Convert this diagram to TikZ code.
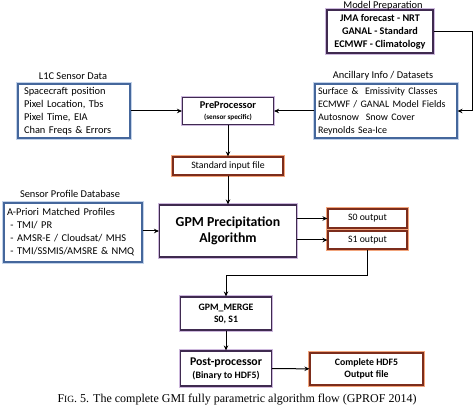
\documentclass[tikz,border=0pt]{standalone}
\usepackage{fontspec}
\setmainfont{Liberation Serif}
\newfontfamily\carlito{Carlito}
\usetikzlibrary{arrows.meta,positioning,calc}
\definecolor{PurpD}{HTML}{3F2A50}
\definecolor{PurpL}{HTML}{CDB8DD}
\definecolor{BlueD}{HTML}{45679C}
\definecolor{BlueL}{HTML}{C3D3EA}
\definecolor{OrgD}{HTML}{7C2D1C}
\definecolor{OrgL}{HTML}{F2A57C}

\begin{document}
\begin{tikzpicture}[x=1pt,y=-1pt,font=\carlito\fontsize{10.4}{13}\selectfont,
    base/.style={draw,fill=white,line width=1.1pt,inner sep=0pt,align=center},
    prp/.style={base,draw=PurpD,preaction={draw=PurpL,line width=3.8pt}},
    blu/.style={base,draw=BlueD,preaction={draw=BlueL,line width=3.8pt},
      align=left,inner xsep=6pt},
    org/.style={base,draw=OrgD,preaction={draw=OrgL,line width=3.8pt}},
    lbl/.style={inner sep=0pt},
    arr/.style={->,line width=1pt},
    >={Stealth[length=5pt,width=4.5pt]}]
  \useasboundingbox (0,0) rectangle (474,406);
  % inputs
  \node[prp,minimum width=106,minimum height=43,font=\carlito\fontsize{10.2}{13}\selectfont\bfseries]
    (model) at (380,31.5) {JMA forecast - NRT\\GANAL - Standard\\ECMWF - Climatology};
  \node[lbl] (modellbl) at (383,5.5) {Model Preparation};
  \node[blu,text width=100,minimum height=54] (l1c) at (74,111)
    {Spacecraft position\\Pixel Location, Tbs\\Pixel Time, EIA\\Chan Freqs \& Errors};
  \node[lbl] (l1clbl) at (73,76) {L1C Sensor Data};
  \node[blu,text width=136,minimum height=54,inner xsep=3pt,font=\carlito\fontsize{10}{13}\selectfont]
    (anc) at (386,111)
    {Surface \&\ \ Emissivity Classes\\ECMWF / GANAL Model Fields\\Autosnow\ \ Snow Cover\\Reynolds Sea-Ice};
  \node[lbl] (anclbl) at (383,76) {Ancillary Info / Datasets};
  % preprocessing
  \node[prp,minimum width=91,minimum height=27] (pre) at (228,111)
    {\bfseries PreProcessor\\[-2pt]{\fontsize{7.2}{8}\selectfont\bfseries(sensor specific)}};
  \node[org,minimum width=110,minimum height=18,font=\carlito\fontsize{9.8}{11}\selectfont]
    (std) at (228,166) {Standard input file};
  % algorithm
  \node[prp,minimum width=137,minimum height=52,font=\carlito\fontsize{13.8}{16.5}\selectfont\bfseries]
    (gpm) at (228,231) {GPM Precipitation\\Algorithm};
  \node[blu,text width=132,minimum height=59,inner xsep=3pt] (spd) at (73,232.5)
    {A-Priori Matched Profiles\\\ - TMI/ PR\\\ - AMSR-E / Cloudsat/ MHS\\\ - TMI/SSMIS/AMSRE \& NMQ};
  \node[lbl] (spdlbl) at (70,194) {Sensor Profile Database};
  \node[org,minimum width=79,minimum height=19,font=\carlito\fontsize{9.8}{11}\selectfont]
    (s0) at (367.5,218.5) {S0 output};
  \node[org,minimum width=79,minimum height=18,font=\carlito\fontsize{9.8}{11}\selectfont]
    (s1) at (367.5,240) {S1 output};
  % merge and output
  \node[prp,minimum width=91,minimum height=33,font=\carlito\fontsize{9.8}{12}\selectfont\bfseries]
    (merge) at (226,313.5) {GPM\_MERGE\\S0, S1};
  \node[prp,minimum width=91,minimum height=35] (post) at (226,368.5)
    {{\fontsize{11.8}{13}\selectfont\bfseries Post-processor}\\{\fontsize{9.8}{12}\selectfont\bfseries(Binary to HDF5)}};
  \node[org,minimum width=113,minimum height=32,font=\carlito\fontsize{9.8}{12}\selectfont\bfseries]
    (hdf) at (366.5,369) {Complete HDF5\\Output file};
  \node[anchor=base,inner sep=0pt,font=\rmfamily\fontsize{12}{14}\selectfont]
    (cap) at (237,402.5) {F{\fontsize{9.5}{12}\selectfont IG}. 5. The complete GMI fully parametric algorithm flow (GPROF 2014)};
  % connectors
  \coordinate (mp) at (472,0);
  \coordinate (jn) at (0,275);
  \draw[arr] (model.east) -| (mp |- anc.east) -- (anc.east);
  \draw[arr] (l1c) -- (pre);
  \draw[arr] (anc) -- (pre);
  \draw[arr] (pre) -- (std);
  \draw[arr] (std) -- (gpm);
  \draw[arr] (spd.east |- gpm.west) -- (gpm.west);
  \draw[arr] (gpm.east |- s0) -- (s0.west);
  \draw[arr] (gpm.east |- s1) -- (s1.west);
  \draw[arr] (s1.south) |- (merge.north |- jn) -- (merge.north);
  \draw[arr] (merge) -- (post);
  \draw[arr] (post) -- (hdf);
\end{tikzpicture}
\end{document}
